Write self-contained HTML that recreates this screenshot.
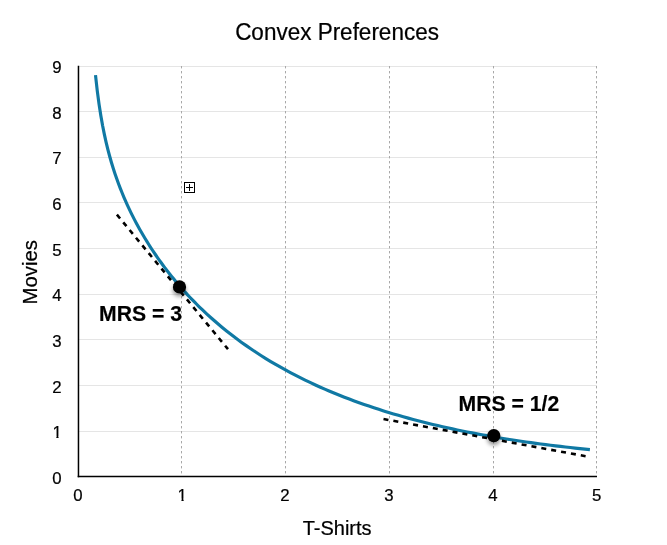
<!DOCTYPE html>
<html><head><meta charset="utf-8"><title>Convex Preferences</title>
<style>
html,body{margin:0;padding:0;background:#fff;}
body{width:667px;height:545px;overflow:hidden;}
svg{display:block;font-family:"Liberation Sans",Arial,Helvetica,sans-serif;fill:#000;}
</style></head><body>
<svg width="667" height="545" viewBox="0 0 667 545">
<defs>
<filter id="sh" x="-60%" y="-60%" width="220%" height="220%">
<feGaussianBlur in="SourceAlpha" stdDeviation="2.2"/>
<feOffset dx="0" dy="2.6" result="b"/>
<feComponentTransfer><feFuncA type="linear" slope="0.42"/></feComponentTransfer>
<feMerge><feMergeNode/><feMergeNode in="SourceGraphic"/></feMerge>
</filter>
<clipPath id="one"><rect x="-10" y="-20" width="20" height="17.7"/><rect x="-0.75" y="-3" width="2.2" height="4"/></clipPath>
</defs>
<rect width="667" height="545" fill="#ffffff"/>
<g>
<line x1="79" y1="431.5" x2="597" y2="431.5" stroke="#e5e5e5" stroke-width="1"/>
<line x1="79" y1="385.5" x2="597" y2="385.5" stroke="#e5e5e5" stroke-width="1"/>
<line x1="79" y1="339.5" x2="597" y2="339.5" stroke="#e5e5e5" stroke-width="1"/>
<line x1="79" y1="294.5" x2="597" y2="294.5" stroke="#e5e5e5" stroke-width="1"/>
<line x1="79" y1="248.5" x2="597" y2="248.5" stroke="#e5e5e5" stroke-width="1"/>
<line x1="79" y1="202.5" x2="597" y2="202.5" stroke="#e5e5e5" stroke-width="1"/>
<line x1="79" y1="157.5" x2="597" y2="157.5" stroke="#e5e5e5" stroke-width="1"/>
<line x1="79" y1="111.5" x2="597" y2="111.5" stroke="#e5e5e5" stroke-width="1"/>
<line x1="79" y1="66.5" x2="597" y2="66.5" stroke="#e5e5e5" stroke-width="1"/>
</g>
<g>
<line x1="181.5" y1="66" x2="181.5" y2="476" stroke="#a8a8a8" stroke-width="1" stroke-dasharray="2.4 2.6"/>
<line x1="285.5" y1="66" x2="285.5" y2="476" stroke="#a8a8a8" stroke-width="1" stroke-dasharray="2.4 2.6"/>
<line x1="389.5" y1="66" x2="389.5" y2="476" stroke="#a8a8a8" stroke-width="1" stroke-dasharray="2.4 2.6"/>
<line x1="493.5" y1="66" x2="493.5" y2="476" stroke="#a8a8a8" stroke-width="1" stroke-dasharray="2.4 2.6"/>
<line x1="596.5" y1="66" x2="596.5" y2="476" stroke="#a8a8a8" stroke-width="1" stroke-dasharray="2.4 2.6"/>
</g>
<line x1="78.47" y1="65.8" x2="78.47" y2="477.2" stroke="#000" stroke-width="1.5"/>
<line x1="77.7" y1="476.5" x2="597" y2="476.5" stroke="#000" stroke-width="1.5"/>
<text transform="translate(337.00 39.80) scale(1 1.030)" text-anchor="middle" font-size="22.50" stroke="#000" stroke-width="0.22">Convex Preferences</text>
<g>
<text transform="translate(56.80 484.10) scale(1 1.000)" text-anchor="middle" font-size="16.80" stroke="#000" stroke-width="0.22">0</text>
<text transform="translate(57.10 438.40) scale(1 1.000)" text-anchor="middle" clip-path="url(#one)" font-size="16.80" stroke="#000" stroke-width="0.22">1</text>
<text transform="translate(56.80 393.10) scale(1 1.000)" text-anchor="middle" font-size="16.80" stroke="#000" stroke-width="0.22">2</text>
<text transform="translate(56.80 347.10) scale(1 1.000)" text-anchor="middle" font-size="16.80" stroke="#000" stroke-width="0.22">3</text>
<text transform="translate(56.80 301.10) scale(1 1.000)" text-anchor="middle" font-size="16.80" stroke="#000" stroke-width="0.22">4</text>
<text transform="translate(56.80 256.20) scale(1 1.000)" text-anchor="middle" font-size="16.80" stroke="#000" stroke-width="0.22">5</text>
<text transform="translate(56.80 210.10) scale(1 1.000)" text-anchor="middle" font-size="16.80" stroke="#000" stroke-width="0.22">6</text>
<text transform="translate(56.80 164.10) scale(1 1.000)" text-anchor="middle" font-size="16.80" stroke="#000" stroke-width="0.22">7</text>
<text transform="translate(56.80 119.10) scale(1 1.000)" text-anchor="middle" font-size="16.80" stroke="#000" stroke-width="0.22">8</text>
<text transform="translate(56.80 73.10) scale(1 1.000)" text-anchor="middle" font-size="16.80" stroke="#000" stroke-width="0.22">9</text>
</g>
<g>
<text transform="translate(77.90 500.80) scale(1 1.000)" text-anchor="middle" font-size="16.80" stroke="#000" stroke-width="0.22">0</text>
<text transform="translate(182.20 500.80) scale(1 1.000)" text-anchor="middle" clip-path="url(#one)" font-size="16.80" stroke="#000" stroke-width="0.22">1</text>
<text transform="translate(284.90 500.80) scale(1 1.000)" text-anchor="middle" font-size="16.80" stroke="#000" stroke-width="0.22">2</text>
<text transform="translate(388.90 500.80) scale(1 1.000)" text-anchor="middle" font-size="16.80" stroke="#000" stroke-width="0.22">3</text>
<text transform="translate(492.90 500.80) scale(1 1.000)" text-anchor="middle" font-size="16.80" stroke="#000" stroke-width="0.22">4</text>
<text transform="translate(596.60 500.80) scale(1 1.000)" text-anchor="middle" font-size="16.80" stroke="#000" stroke-width="0.22">5</text>
</g>
<text transform="translate(37.30 272.30) rotate(-90) scale(1 1.030)" text-anchor="middle" font-size="20.30" stroke="#000" stroke-width="0.22">Movies</text>
<text transform="translate(337.10 534.90) scale(1 1.030)" text-anchor="middle" font-size="20.00" stroke="#000" stroke-width="0.22">T-Shirts</text>
<path d="M95.50 75.10 L97.27 90.85 L99.04 104.10 L100.81 115.49 L102.58 125.46 L104.36 134.33 L106.13 142.31 L107.90 149.58 L109.67 156.27 L111.44 162.47 L113.21 168.26 L114.98 173.70 L116.75 178.84 L118.53 183.71 L120.30 188.35 L122.07 192.79 L123.84 197.04 L125.61 201.13 L127.38 205.08 L129.15 208.88 L130.92 212.56 L132.69 216.13 L134.47 219.60 L136.24 222.96 L138.01 226.24 L139.78 229.42 L141.55 232.53 L143.32 235.57 L145.09 238.53 L146.86 241.43 L148.64 244.26 L150.41 247.03 L152.18 249.75 L153.95 252.41 L155.72 255.01 L157.49 257.57 L159.26 260.08 L161.03 262.54 L162.81 264.95 L164.58 267.32 L166.35 269.66 L168.12 271.95 L169.89 274.20 L171.66 276.41 L173.43 278.59 L175.20 280.73 L176.97 282.84 L178.75 284.91 L180.52 286.95 L182.29 288.96 L184.06 290.94 L185.83 292.89 L187.60 294.82 L189.37 296.71 L191.14 298.57 L192.92 300.41 L194.69 302.22 L196.46 304.01 L198.23 305.77 L200.00 307.51 L202.00 309.44 L206.91 314.06 L211.82 318.51 L216.73 322.80 L221.64 326.94 L226.55 330.94 L231.46 334.80 L236.37 338.54 L241.28 342.15 L246.19 345.64 L251.10 349.03 L256.01 352.30 L260.92 355.48 L265.83 358.55 L270.74 361.54 L275.65 364.43 L280.56 367.24 L285.47 369.96 L290.38 372.60 L295.29 375.17 L300.20 377.67 L305.11 380.09 L310.02 382.44 L314.93 384.73 L319.84 386.96 L324.75 389.12 L329.66 391.22 L334.57 393.27 L339.48 395.26 L344.39 397.19 L349.30 399.07 L354.21 400.91 L359.12 402.69 L364.03 404.42 L368.94 406.11 L373.85 407.76 L378.76 409.36 L383.67 410.92 L388.58 412.43 L393.49 413.91 L398.41 415.35 L403.32 416.75 L408.23 418.11 L413.14 419.44 L418.05 420.73 L422.96 421.99 L427.87 423.22 L432.78 424.42 L437.69 425.58 L442.60 426.71 L447.51 427.82 L452.42 428.89 L457.33 429.94 L462.24 430.95 L467.15 431.95 L472.06 432.91 L476.97 433.85 L481.88 434.77 L486.79 435.66 L491.70 436.52 L496.61 437.36 L501.52 438.18 L506.43 438.98 L511.34 439.76 L516.25 440.51 L521.16 441.25 L526.07 441.96 L530.98 442.65 L535.89 443.33 L540.80 443.98 L545.71 444.62 L550.62 445.24 L555.53 445.84 L560.44 446.42 L565.35 446.99 L570.26 447.53 L575.17 448.07 L580.08 448.58 L584.99 449.08 L589.90 449.57" fill="none" stroke="#1079a4" stroke-width="3.15" stroke-linejoin="round"/>
<line x1="116.9" y1="214.6" x2="228" y2="349.2" stroke="#000" stroke-width="2.6" stroke-dasharray="5 5"/>
<line x1="383.5" y1="419.0" x2="585.6" y2="456.2" stroke="#000" stroke-width="2.6" stroke-dasharray="5 5.03"/>
<circle cx="179.5" cy="286.9" r="6.6" fill="#000" filter="url(#sh)"/>
<circle cx="493.8" cy="435.7" r="6.6" fill="#000" filter="url(#sh)"/>
<text transform="translate(99.00 321.20) scale(1 1.030)" font-weight="bold" font-size="21.20" stroke="#000" stroke-width="0.15">MRS = 3</text>
<text transform="translate(458.50 410.70) scale(1 1.030)" font-weight="bold" font-size="21.20" stroke="#000" stroke-width="0.15">MRS = 1/2</text>
<g fill="none" stroke="#000" stroke-width="1">
<rect x="184.5" y="182.5" width="10" height="10" fill="#fff"/>
<line x1="189.5" y1="184" x2="189.5" y2="191"/>
<line x1="186" y1="187.5" x2="193" y2="187.5"/>
</g>
</svg>
</body></html>
